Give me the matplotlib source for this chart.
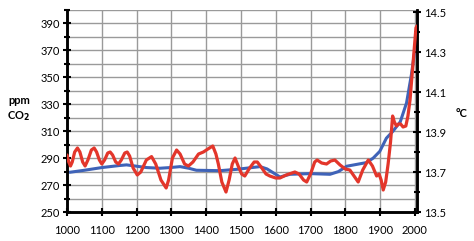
import matplotlib
matplotlib.use("Agg")
import matplotlib.pyplot as plt
from matplotlib.ticker import MultipleLocator

plt.rcParams["font.family"] = ["Lato", "DejaVu Sans"]

# CO2 concentration (ppm, left axis)
co2_years = [1008, 1050, 1100, 1150, 1171, 1200, 1229, 1267, 1296, 1325, 1350,
             1372, 1440, 1488, 1555, 1575, 1603, 1612, 1641, 1700, 1756, 1780,
             1804, 1861, 1880, 1899, 1918, 1937, 1958, 1976, 1990, 2003]
co2_ppm = [279.5, 281, 283, 284.5, 285, 284, 283, 282.5, 283, 283.7, 282.5,
           281, 280.7, 281.7, 283.7, 282, 277.5, 276, 278, 278.5, 278, 280,
           284, 286.7, 290, 295, 304.8, 310, 317, 331, 352, 376]
co2_ticks = [250, 270, 290, 310, 330, 350, 370, 390]

# temperature (deg C, right axis)
temp_years = [1000, 1005, 1010, 1015, 1022, 1030, 1037, 1045, 1052, 1060, 1070,
              1078, 1085, 1093, 1100, 1108, 1117, 1124, 1131, 1140, 1148, 1156,
              1166, 1173, 1180, 1190, 1202, 1212, 1228, 1243, 1255, 1270, 1285,
              1292, 1303, 1315, 1325, 1338, 1349, 1362, 1378, 1392, 1405, 1419,
              1428, 1435, 1445, 1457, 1466, 1475, 1483, 1492, 1502, 1511, 1525,
              1538, 1547, 1560, 1572, 1583, 1600, 1612, 1630, 1655, 1667, 1680,
              1689, 1700, 1712, 1719, 1732, 1746, 1758, 1770, 1785, 1800, 1813,
              1825, 1837, 1850, 1866, 1878, 1890, 1897, 1903, 1909, 1916, 1923,
              1930, 1936, 1941, 1947, 1953, 1959, 1966, 1974, 1980, 1986, 1995,
              2003, 2006]
temp_c = [13.785, 13.75, 13.73, 13.75, 13.80, 13.82, 13.80, 13.75, 13.73, 13.76,
          13.81, 13.82, 13.80, 13.76, 13.74, 13.76, 13.795, 13.80, 13.785, 13.75,
          13.74, 13.76, 13.795, 13.80, 13.78, 13.72, 13.685, 13.70, 13.76, 13.777,
          13.74, 13.66, 13.62, 13.66, 13.77, 13.81, 13.79, 13.74, 13.73, 13.75,
          13.79, 13.80, 13.815, 13.83, 13.79, 13.74, 13.65, 13.60, 13.66, 13.74,
          13.77, 13.73, 13.69, 13.68, 13.72, 13.75, 13.75, 13.72, 13.69, 13.68,
          13.67, 13.67, 13.685, 13.70, 13.69, 13.66, 13.65, 13.69, 13.75, 13.76,
          13.745, 13.74, 13.755, 13.76, 13.735, 13.715, 13.71, 13.68, 13.65, 13.71,
          13.76, 13.73, 13.68, 13.69, 13.66, 13.61, 13.65, 13.74, 13.85, 13.98,
          13.95, 13.93, 13.94, 13.94, 13.925, 13.93, 13.98, 14.06, 14.25, 14.42,
          14.43]
temp_ticks = [13.5, 13.7, 13.9, 14.1, 14.3, 14.5]

fig = plt.figure(figsize=(4.74, 2.41), dpi=100)
ax = fig.add_axes([0.1414, 0.1203, 0.7383, 0.8382])
ax2 = ax.twinx()

ax.set_xlim(1000, 2006)
ax.set_ylim(250, 400)
ax2.set_ylim(13.5, 14.51)

ax.set_xticks(range(1000, 2001, 100))
ax.set_yticks(co2_ticks)
ax.yaxis.set_minor_locator(MultipleLocator(10))
ax2.set_yticks(temp_ticks)
ax2.yaxis.set_minor_locator(MultipleLocator(0.1))
ax2.yaxis.set_major_formatter(plt.FuncFormatter(lambda v, p: f"{v:.1f}"))

ax.grid(True, which="major", axis="x", color="#9a9a9a", linewidth=1)
ax.grid(True, which="both", axis="y", color="#9a9a9a", linewidth=1)
ax.set_axisbelow(True)

for a in (ax, ax2):
    for side in ("left", "right", "bottom"):
        a.spines[side].set_linewidth(1.8)
    a.spines["top"].set_visible(False)
    a.tick_params(which="both", direction="inout", width=1.5, labelsize=8,
                  colors="black")
    a.tick_params(which="major", length=6)
    a.tick_params(which="minor", length=5)
ax.tick_params(axis="x", pad=6)
ax.tick_params(axis="y", pad=2)
ax2.tick_params(axis="y", pad=2)

ax.plot(co2_years, co2_ppm, color="#3f63b8", linewidth=2.2,
        solid_joinstyle="round", solid_capstyle="round")
ax2.plot(temp_years, temp_c, color="#e3362b", linewidth=2.3,
         solid_joinstyle="round", solid_capstyle="round", zorder=5)

fig.text(0.04, 0.585, "ppm", fontsize=8, fontweight="bold", ha="center", va="center")
fig.text(0.04, 0.52, "CO$_\\mathbf{2}$", fontsize=8, fontweight="bold",
         ha="center", va="center")
fig.text(0.974, 0.53, "°C", fontsize=8, fontweight="bold", ha="center", va="center")

fig.savefig("out.png", dpi=100)
